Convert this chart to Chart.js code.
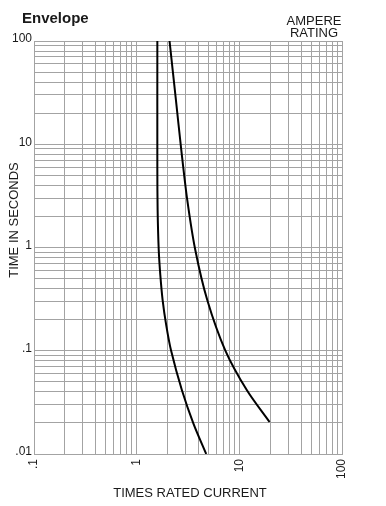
<!DOCTYPE html>
<html>
<head>
<meta charset="utf-8">
<script src="https://cdn.jsdelivr.net/npm/chart.js@4/dist/chart.umd.min.js"></script>
<style>
  html, body { margin: 0; padding: 0; background: #fff; }
  #wrap { width: 386px; height: 506px; }
</style>
</head>
<body>
<div id="wrap"><canvas id="chart" width="386" height="506"></canvas></div>
<script>
// Envelope curves (times rated current, seconds)
const lowerX = [1.59, 1.59, 1.6, 1.64, 1.7, 1.79, 1.94, 2.16, 2.76, 3.58, 4.76];
const lowerT = [100, 5.65, 2.31, 0.95, 0.54, 0.31, 0.177, 0.101, 0.0414, 0.0196, 0.01];

const upperX = [2.09, 2.41, 2.72, 3.11, 3.72, 4.87, 7.29, 11.86, 19.7];
const upperT = [100, 27, 8.84, 2.89, 0.95, 0.31, 0.101, 0.0414, 0.0204];

// axes
const xMajor = [0.1, 1, 10, 100];
const xTickLabels = ['.1', '1', '10', '100'];
const yMajor = [0.01, 0.1, 1, 10, 100];
const yTickLabels = ['.01', '.1', '1', '10', '100'];

const gridColor = '#a3a3a3';
const font = '"Liberation Sans", Arial, sans-serif';

// log grid: 1..9 in every decade, then the last power of ten
function decadeTicks(majors) {
    const out = [];
    for (let i = 0; i < majors.length - 1; i++) {
        for (let k = 1; k <= 9; k++) out.push(majors[i] * k);
    }
    out.push(majors[majors.length - 1]);
    return out;
}

const toPoints = (xs, ys) => xs.map((x, i) => ({ x: x, y: ys[i] }));

const textPlugin = {
    id: 'pageText',
    afterDraw(chart) {
        const ctx = chart.ctx;
        ctx.save();
        ctx.fillStyle = '#1a1a1a';
        ctx.textBaseline = 'alphabetic';

        ctx.font = 'bold 15px ' + font;
        ctx.textAlign = 'left';
        ctx.fillText('Envelope', 22, 23);

        ctx.font = '13px ' + font;
        ctx.textAlign = 'center';
        ctx.fillText('AMPERE', 314, 25);
        ctx.fillText('RATING', 314, 37);

        ctx.fillText('TIMES RATED CURRENT', 190, 497);

        ctx.translate(18, 220);
        ctx.rotate(-Math.PI / 2);
        ctx.fillText('TIME IN SECONDS', 0, 0);
        ctx.restore();
    }
};

const ctx = document.getElementById('chart').getContext('2d');

new Chart(ctx, {
    type: 'scatter',
    data: {
        datasets: [
            { data: toPoints(lowerX, lowerT) },
            { data: toPoints(upperX, upperT) }
        ]
    },
    options: {
        responsive: false,
        animation: false,
        devicePixelRatio: 1,
        showLine: true,
        layout: { padding: { top: 41, right: 44, left: 0, bottom: 0 } },
        elements: {
            line: { borderColor: '#000', borderWidth: 2, tension: 0.3, fill: false },
            point: { radius: 0, hoverRadius: 0 }
        },
        plugins: {
            legend: { display: false },
            tooltip: { enabled: false }
        },
        scales: {
            x: {
                type: 'logarithmic',
                min: 0.1,
                max: 100,
                afterBuildTicks: scale => { scale.ticks = decadeTicks(xMajor).map(v => ({ value: v })); },
                afterFit: scale => { scale.height = 52; },
                grid: { color: gridColor, lineWidth: 1, drawTicks: false },
                border: { color: gridColor },
                ticks: {
                    autoSkip: false,
                    minRotation: 90,
                    maxRotation: 90,
                    padding: 5,
                    color: '#1a1a1a',
                    font: { family: font, size: 12 },
                    callback: value => {
                        const i = xMajor.indexOf(value);
                        return i >= 0 ? xTickLabels[i] : '';
                    }
                }
            },
            y: {
                type: 'logarithmic',
                min: 0.01,
                max: 100,
                afterBuildTicks: scale => { scale.ticks = decadeTicks(yMajor).map(v => ({ value: v })); },
                afterFit: scale => { scale.width = 34; },
                grid: { color: gridColor, lineWidth: 1, drawTicks: false },
                border: { color: gridColor },
                ticks: {
                    autoSkip: false,
                    padding: 2,
                    labelOffset: -2,
                    color: '#1a1a1a',
                    font: { family: font, size: 12 },
                    callback: value => {
                        const i = yMajor.indexOf(value);
                        return i >= 0 ? yTickLabels[i] : '';
                    }
                }
            }
        }
    },
    plugins: [textPlugin]
});
</script>
</body>
</html>
